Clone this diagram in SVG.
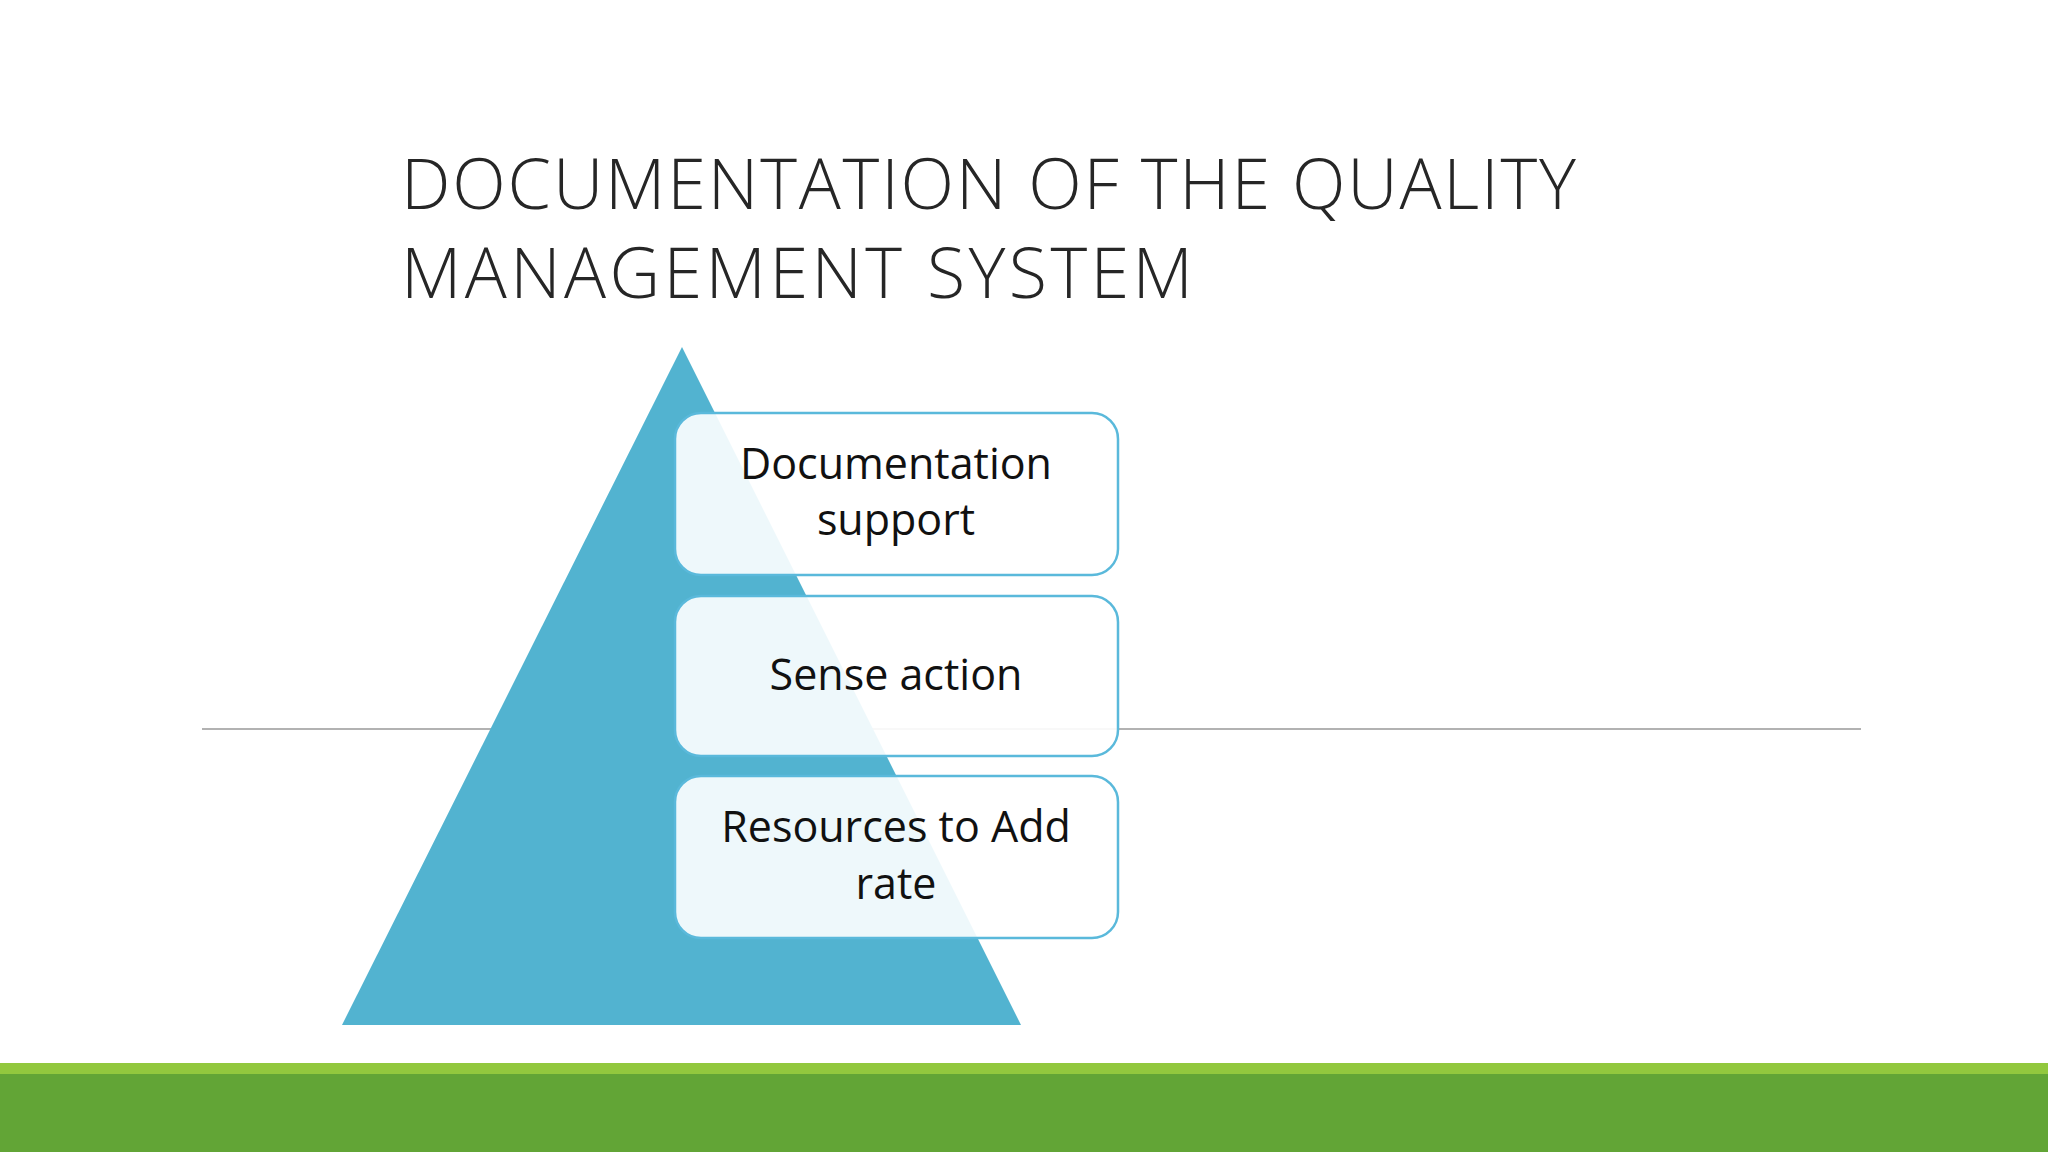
<svg xmlns="http://www.w3.org/2000/svg" width="2048" height="1152" viewBox="0 0 2048 1152">
<style>
.t{font-family:"Open Sans","Liberation Sans",sans-serif;font-weight:300;font-size:70px;fill:#262626}
.b{fill:#ffffff;fill-opacity:0.9;stroke:#5ab9db;stroke-width:2.5}
.l{font-family:"Open Sans","Liberation Sans",sans-serif;font-size:43px;fill:#111;text-anchor:middle}
</style>
<rect width="2048" height="1152" fill="#fff"/>
<text class="t" x="401" y="209" textLength="1175">DOCUMENTATION OF THE QUALITY</text>
<text class="t" x="401" y="298" textLength="792">MANAGEMENT SYSTEM</text>
<line x1="202" y1="729" x2="1861" y2="729" stroke="#999" stroke-width="1.5"/>
<polygon id="pyramid" points="682,347 342,1025 1021,1025" fill="#52b3d0"/>
<g id="connectors"></g>
<g id="n1"><rect class="b" x="675" y="413" width="443" height="162" rx="26"/><text class="l" x="896" y="479">Documentation</text><text class="l" x="896" y="535">support</text></g>
<g id="n2"><rect class="b" x="675" y="596" width="443" height="160" rx="26"/><text class="l" x="896" y="690">Sense action</text></g>
<g id="n3"><rect class="b" x="675" y="776" width="443" height="162" rx="26"/><text class="l" x="896" y="842">Resources to Add</text><text class="l" x="896" y="899">rate</text></g>
<rect x="0" y="1063" width="2048" height="11" fill="#92c83e"/>
<rect x="0" y="1074" width="2048" height="78" fill="#62a536"/>
</svg>
